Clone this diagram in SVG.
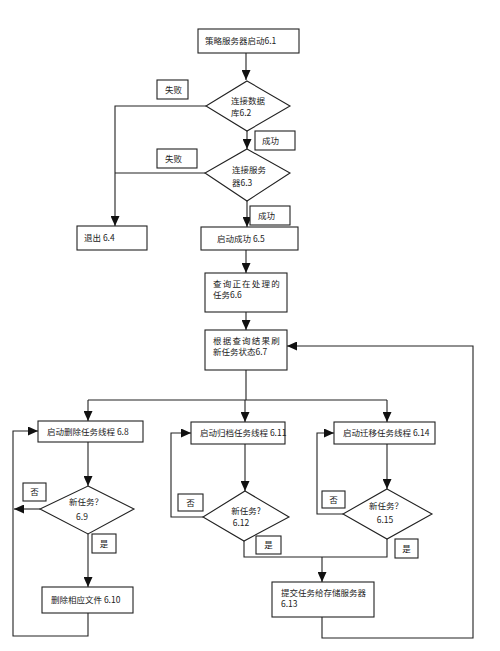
<svg xmlns="http://www.w3.org/2000/svg" width="500" height="651" viewBox="0 0 500 651">
<style>
.n{fill:#fff;stroke:#222;stroke-width:1.1}
.c{fill:none;stroke:#222;stroke-width:1.1}
.t{font-family:"Noto Sans CJK SC","Liberation Serif",serif;font-size:8.5px;fill:#222}
.m{text-anchor:middle}
</style>
<defs>
<marker id="a" markerUnits="userSpaceOnUse" markerWidth="10" markerHeight="9" refX="10" refY="4.5" orient="auto">
<path d="M0,0 L10,4.5 L0,9 z" fill="#111"/>
</marker>
</defs>
<rect width="500" height="651" fill="#fff"/>
<g id="connectors">
<path class="c" d="M246,53 V80" marker-end="url(#a)"/>
<path class="c" d="M206,106 H115 V226" marker-end="url(#a)"/>
<path class="c" d="M205,173 H115"/>
<path class="c" d="M247,131 V149" marker-end="url(#a)"/>
<path class="c" d="M247,201 V227" marker-end="url(#a)"/>
<path class="c" d="M246,250 V273" marker-end="url(#a)"/>
<path class="c" d="M246,312 V330" marker-end="url(#a)"/>
<path class="c" d="M246,370 V400 M88,400 H387"/>
<path class="c" d="M88,400 V421" marker-end="url(#a)"/>
<path class="c" d="M245,400 V422" marker-end="url(#a)"/>
<path class="c" d="M387,400 V422" marker-end="url(#a)"/>
<path class="c" d="M88,442 V486" marker-end="url(#a)"/>
<path class="c" d="M40,509 H14" marker-end="url(#a)"/>
<path class="c" d="M88,613 V636 H13 V431 H38" marker-end="url(#a)"/>
<path class="c" d="M88,534 V587" marker-end="url(#a)"/>
<path class="c" d="M245,444 V491" marker-end="url(#a)"/>
<path class="c" d="M203,517 H171 V433 H191" marker-end="url(#a)"/>
<path class="c" d="M387,444 V489" marker-end="url(#a)"/>
<path class="c" d="M343,514 H317 V433 H334" marker-end="url(#a)"/>
<path class="c" d="M244,541 V557 H387 V539"/>
<path class="c" d="M322,557 V582" marker-end="url(#a)"/>
<path class="c" d="M322,617 V638 H473 V346 H287" marker-end="url(#a)"/>
</g>
<g id="n61"><rect class="n" x="198" y="29" width="101" height="24"/><text class="t" x="205" y="44">策略服务器启动6.1</text></g>
<g id="n62"><polygon class="n" points="247,81 290,106 247,131 206,106"/><text class="t" x="231" y="104">连接数据</text><text class="t" x="231" y="116">库6.2</text></g>
<g id="n63"><polygon class="n" points="247,149 290,173 247,201 205,173"/><text class="t" x="232" y="173">连接服务</text><text class="t" x="232" y="186">器6.3</text></g>
<g id="n64"><rect class="n" x="77" y="226" width="70" height="24"/><text class="t" x="84" y="241">退出 6.4</text></g>
<g id="n65"><rect class="n" x="201" y="227" width="97" height="23"/><text class="t" x="217" y="242">启动成功 6.5</text></g>
<g id="n66"><rect class="n" x="205" y="273" width="82" height="39"/><text class="t" x="213" y="287" letter-spacing="1.2">查询正在处理的</text><text class="t" x="213" y="298">任务6.6</text></g>
<g id="n67"><rect class="n" x="205" y="330" width="82" height="40"/><text class="t" x="213" y="344" letter-spacing="1.2">根据查询结果刷</text><text class="t" x="213" y="355">新任务状态6.7</text></g>
<g id="n68"><rect class="n" x="38" y="421" width="105" height="21"/><text class="t" x="47" y="435">启动删除任务线程 6.8</text></g>
<g id="n69"><polygon class="n" points="88,486 134,509 88,534 40,509"/><text class="t m" x="86" y="505">新任务？</text><text class="t m" x="82" y="520">6.9</text></g>
<g id="n610"><rect class="n" x="42" y="587" width="91" height="26"/><text class="t" x="51" y="603">删除相应文件 6.10</text></g>
<g id="n611"><rect class="n" x="191" y="422" width="94" height="22"/><text class="t" x="200" y="436">启动归档任务线程 6.11</text></g>
<g id="n612"><polygon class="n" points="245,491 289,517 244,541 203,517"/><text class="t m" x="246" y="514">新任务?</text><text class="t m" x="241" y="526">6.12</text></g>
<g id="n613"><rect class="n" x="272" y="582" width="102" height="35"/><text class="t" x="281" y="596">提交任务给存储服务器</text><text class="t" x="281" y="607">6.13</text></g>
<g id="n614"><rect class="n" x="334" y="422" width="101" height="22"/><text class="t" x="343" y="436">启动迁移任务线程 6.14</text></g>
<g id="n615"><polygon class="n" points="387,489 432,514 387,539 343,514"/><text class="t m" x="386" y="509">新任务？</text><text class="t m" x="385" y="523">6.15</text></g>
<g id="labels">
<g id="l1"><rect class="n" x="157" y="80" width="31" height="19"/><text class="t" x="165" y="93">失败</text></g>
<g id="l2"><rect class="n" x="255" y="131" width="40" height="19"/><text class="t" x="262" y="144">成功</text></g>
<g id="l3"><rect class="n" x="157" y="149" width="40" height="19"/><text class="t" x="165" y="162">失败</text></g>
<g id="l4"><rect class="n" x="250" y="206" width="40" height="19"/><text class="t" x="258" y="219">成功</text></g>
<g id="l5"><rect class="n" x="23" y="483" width="23" height="18"/><text class="t m" x="34.5" y="495">否</text></g>
<g id="l6"><rect class="n" x="92" y="534" width="24" height="19"/><text class="t m" x="104" y="547">是</text></g>
<g id="l7"><rect class="n" x="178" y="494" width="25" height="17"/><text class="t m" x="190.5" y="506">否</text></g>
<g id="l8"><rect class="n" x="256" y="536" width="25" height="18"/><text class="t m" x="268.5" y="548">是</text></g>
<g id="l9"><rect class="n" x="322" y="491" width="23" height="17"/><text class="t m" x="333.5" y="503">否</text></g>
<g id="l10"><rect class="n" x="395" y="539" width="23" height="19"/><text class="t m" x="406.5" y="552">是</text></g>
</g>
</svg>
